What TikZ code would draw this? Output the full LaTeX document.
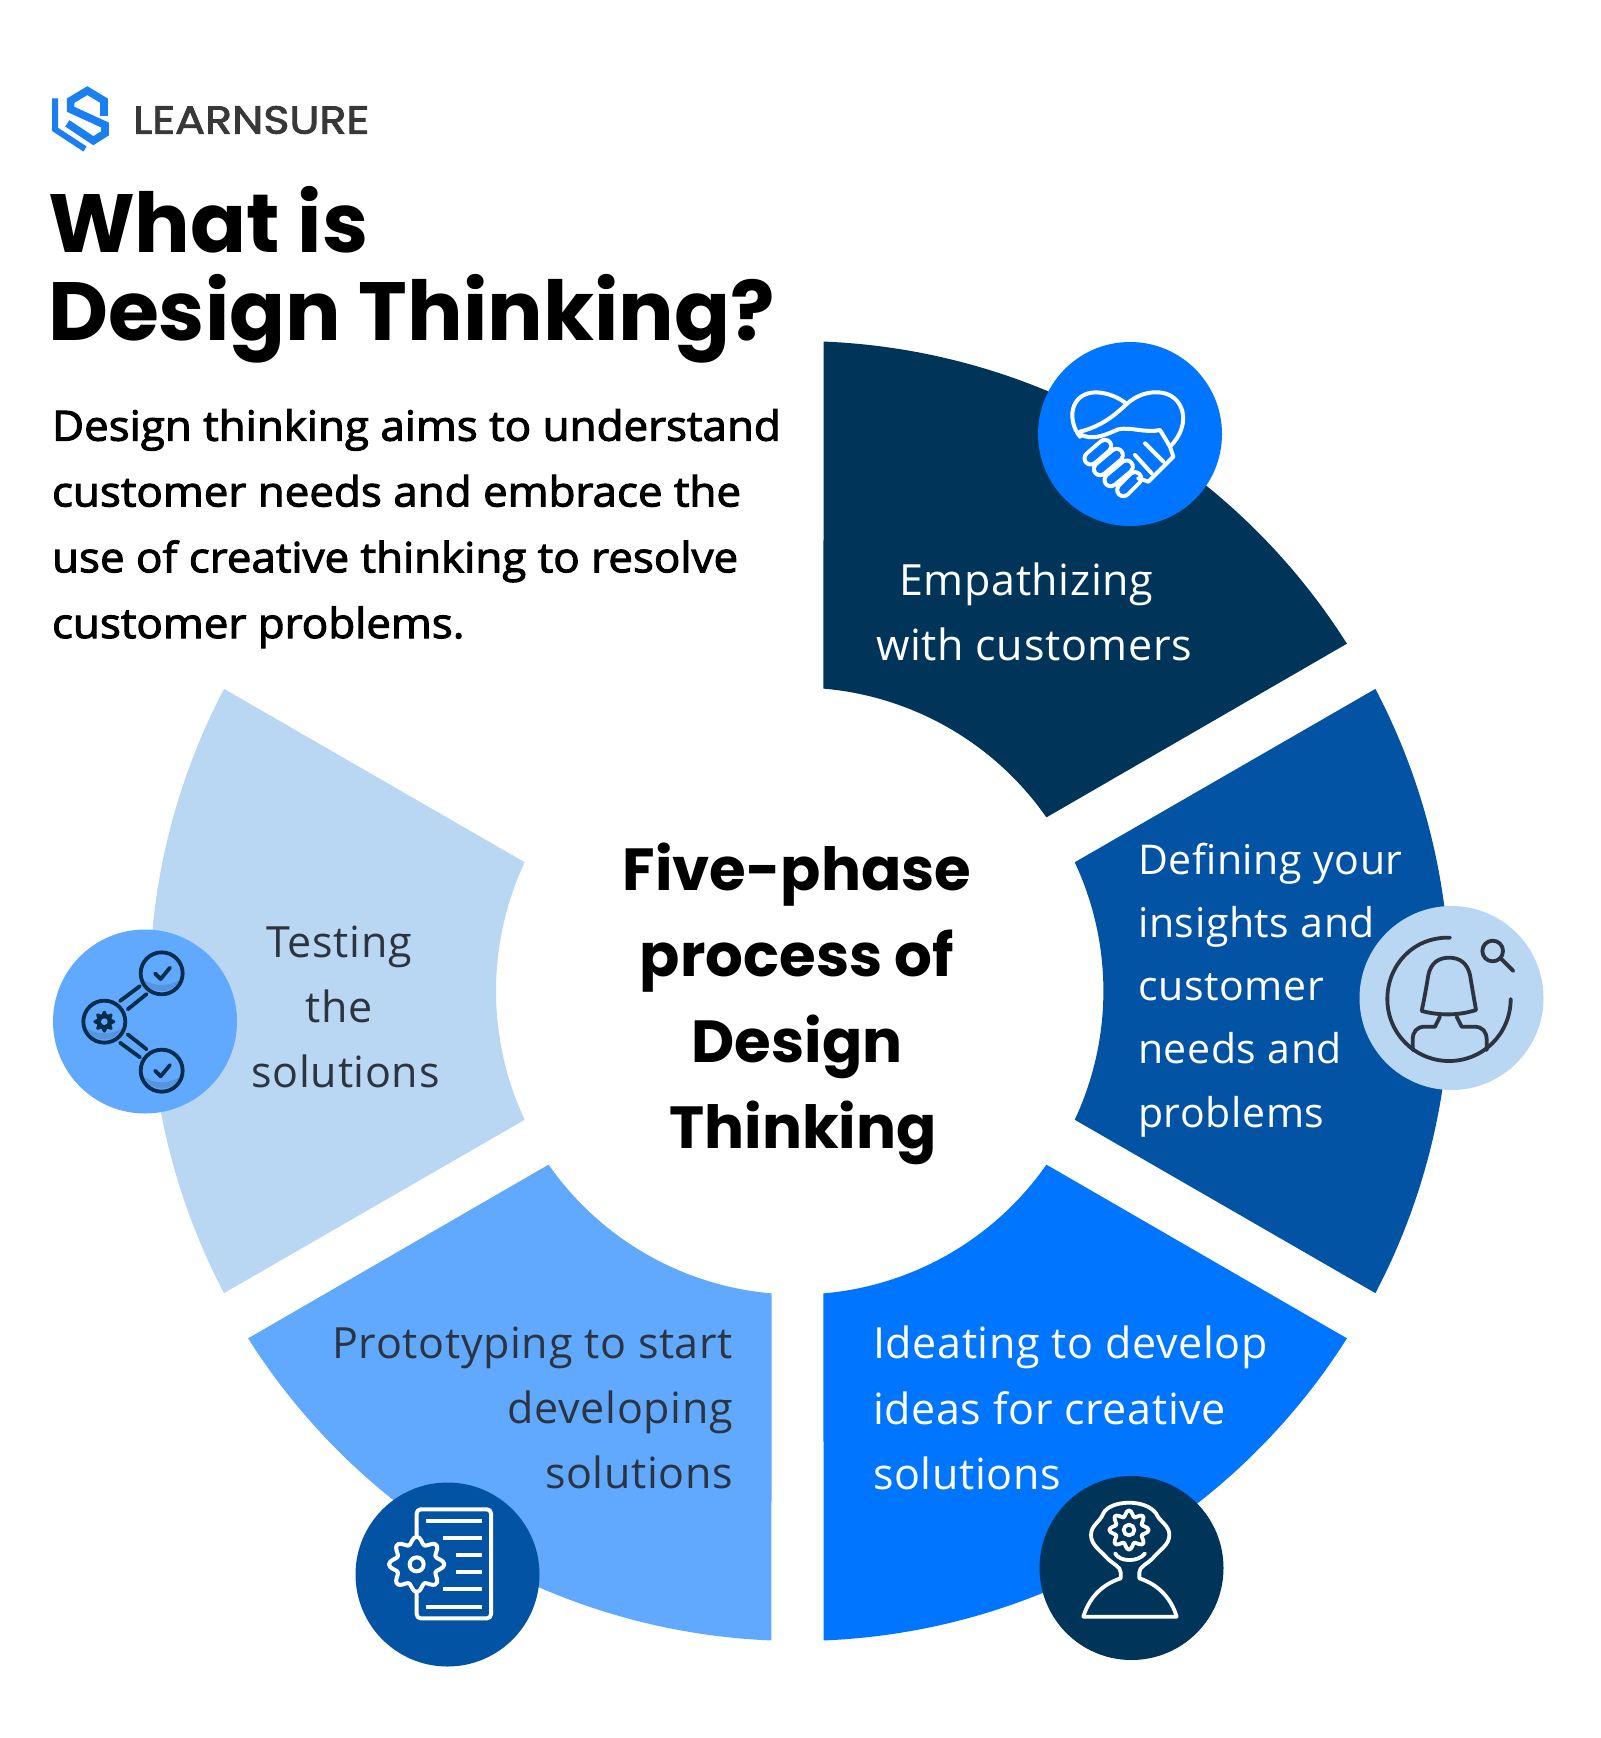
\documentclass[tikz,border=0pt]{standalone}
\usepackage{fontspec}
\setmainfont{Open Sans}
\newfontfamily\headfont{Poppins}
\newfontfamily\logofont[FakeBold=2.2, FakeStretch=1.14]{Poppins}
\newfontfamily\introfont[FakeBold=2.5, FakeStretch=1.056]{Open Sans}
\newfontfamily\phasefont[LetterSpace=1.5]{Open Sans}
\definecolor{navy}{HTML}{003559}
\definecolor{royal}{HTML}{0353A4}
\definecolor{bright}{HTML}{0075FF}
\definecolor{sky}{HTML}{61A9FF}
\definecolor{pale}{HTML}{B9D6F2}
\definecolor{ink}{HTML}{2B3440}
\definecolor{logoblue}{HTML}{1A7FF0}
\usepackage{tikz}

\begin{document}
\begin{tikzpicture}[x=0.5pt, y=-0.5pt,
  heading/.style={align=left, anchor=north west, font=\headfont\bfseries\fontsize{41.3}{44.3}\selectfont},
  intro/.style={align=left, anchor=north west, font=\introfont\fontsize{20.8}{32.9}\selectfont},
  centre/.style={align=center, font=\headfont\bfseries\fontsize{29.7}{42.9}\selectfont},
  phase/.style={font=\phasefont\fontsize{21.5}{32.7}\selectfont},
  narrow/.style={font=\phasefont\fontsize{20.5}{31.6}\selectfont},
  badge/.style={circle, minimum size=92pt, inner sep=0pt},
  crop/.style={x=0.16667pt, y=-0.16667pt, line join=round, line cap=round},
  finger/.style={double=bright, double distance=4.2pt, line width=2pt},
]
\useasboundingbox (0,0) rectangle (1600,1738);

% five sectors round the middle
\begin{scope}[shift={(797.5,991)}]
\fill[navy] (-87.7:650) arc[start angle=-87.7, end angle=-32.3, radius=650] -- (-34.9:303.5) arc[start angle=-34.9, end angle=-85.1, radius=303.5] -- cycle;
\fill[royal, xshift=1.2pt] (-27.7:650) arc[start angle=-27.7, end angle=27.7, radius=650] -- (25.1:303.5) arc[start angle=25.1, end angle=-25.1, radius=303.5] -- cycle;
\fill[bright] (32.3:650) arc[start angle=32.3, end angle=87.7, radius=650] -- (85.1:303.5) arc[start angle=85.1, end angle=34.9, radius=303.5] -- cycle;
\fill[sky] (92.3:650) arc[start angle=92.3, end angle=147.7, radius=650] -- (145.1:303.5) arc[start angle=145.1, end angle=94.9, radius=303.5] -- cycle;
\fill[pale, xshift=1pt] (152.3:650) arc[start angle=152.3, end angle=207.7, radius=650] -- (205.1:303.5) arc[start angle=205.1, end angle=154.9, radius=303.5] -- cycle;
\end{scope}

\node[badge, fill=bright] (empathize) at (1130,434) {};
\node[badge, fill=pale] (define) at (1451.5,998) {};
\node[badge, fill=navy] (ideate) at (1131.5,1568) {};
\node[badge, fill=royal] (prototype) at (447.5,1574.5) {};
\node[badge, fill=sky] (test) at (145,1021.5) {};

\node[heading] (title) at (41,179) {What is\\Design Thinking?};
\node[intro, text=black] (summary) at (45,402) {Design thinking aims to understand\\customer needs and embrace the\\use of creative thinking to resolve\\customer problems.};
\node[centre] (middle) at (797,1004) {Five-phase\\process of\\Design\\\kern6pt Thinking};
\node[phase, align=center, text=white] (empathizing) at (1034,612) {Empathizing\kern7.7pt\\with customers};
\node[narrow, align=left, anchor=west, text=white] (defining) at (1131,990) {Defining your\\insights and\\customer\\needs and\\problems};
\node[phase, align=left, anchor=west, text=white] (ideating) at (866,1408) {Ideating to develop\\ideas for creative\\solutions};
\node[phase, align=right, anchor=east, text=ink] (prototyping) at (740,1408) {Prototyping to start\\developing\\solutions};
\node[phase, align=center, text=ink] (testing) at (339,1007) {Testing\\the\\\kern6.6pt solutions};
\node[anchor=west, text={black!78}, font=\logofont\fontsize{19.5}{24}\selectfont] (brand) at (126,120) {LEARNSURE};

% logo
\begin{scope}[shift={(30,70)}, crop, logoblue, miter limit=4, line cap=butt, line join=miter]
\draw[line width=3.8pt] (222,138) -- (222,92) -- (172,62) -- (122,92) -- (122,118) -- (225,165) -- (225,190) -- (190,212) -- (112,160);
\draw[line width=3pt] (75,85) -- (75,178) -- (165,237);
\end{scope}

% handshake heart
\begin{scope}[shift={(1020,330)}, crop, white, line width=2pt]
\draw[finger] (345,445) -- (310,480);
\draw[finger] (320,410) -- (272,450);
\draw[finger] (290,375) -- (240,417);
\draw[finger] (255,348) -- (212,385);
\draw (180,320) .. controls (140,270) and (150,190) .. (225,187) .. controls (265,187) and (300,205) .. (320,222);
\draw (180,305) .. controls (240,290) and (280,260) .. (320,222) .. controls (350,195) and (385,185) .. (415,187) .. controls (490,190) and (520,280) .. (450,350);
\draw (175,310) .. controls (215,335) and (255,315) .. (295,298) .. controls (335,290) and (375,310) .. (420,300) -- (450,350) -- (460,380) -- (385,455) -- (355,445);
\draw (345,375) -- (395,430);
\draw (375,340) -- (430,395);
\end{scope}

% person with magnifier
\begin{scope}[shift={(1350,895)}, crop, ink, line width=1.9pt]
\draw (300,128) .. controls (190,125) and (112,210) .. (112,312) .. controls (112,415) and (195,498) .. (297,498) .. controls (400,498) and (482,415) .. (482,312);
\draw (215,348) .. controls (225,300) and (230,270) .. (235,240) .. controls (242,205) and (265,188) .. (297,188) .. controls (330,188) and (352,205) .. (360,240) .. controls (365,270) and (370,300) .. (378,345) .. controls (325,362) and (270,362) .. cycle;
\draw (270,365) -- (255,395) -- (225,395) .. controls (200,395) and (188,410) .. (188,435) -- (188,465);
\draw (320,365) -- (335,395) -- (372,395) .. controls (398,395) and (410,410) .. (410,435) -- (410,465);
\draw (428,168) circle[radius=31];
\draw (452,190) -- (490,228);
\end{scope}

% head with gear
\begin{scope}[shift={(1030,1465)}, crop, white, line width=1.9pt]
\draw (272,322) .. controls (272,305) and (250,298) .. (232,280) .. controls (210,255) and (183,240) .. (183,210) .. controls (183,180) and (210,172) .. (220,145) .. controls (240,105) and (345,100) .. (378,145) .. controls (388,170) and (418,180) .. (418,210) .. controls (418,240) and (388,255) .. (368,280) .. controls (350,298) and (328,305) .. (328,322) -- (328,340) .. controls (390,360) and (425,405) .. (440,455) -- (160,455) .. controls (175,405) and (210,360) .. (272,340) -- cycle;
\draw[shift={(297,195)}] plot[smooth cycle, domain=0:354, samples=60] (\x:{50+9*cos(8*\x)});
\draw (297,195) circle[radius=16];
\draw (255,265) .. controls (270,292) and (325,292) .. (345,265);
\end{scope}

% document with gear
\begin{scope}[shift={(345,1470)}, crop, white, line width=2pt]
\draw[rounded corners=2pt] (215,195) -- (215,118) -- (438,118) -- (438,445) -- (215,445) -- (215,370);
\draw[fill=royal, shift={(215,283)}] plot[smooth cycle, domain=0:354, samples=60] (\x:{72+11*cos(8*\x)});
\draw (215,283) circle[radius=21];
\draw[line cap=butt] (243,153) -- (412,153);
\draw[line cap=butt] (293,205) -- (412,205);
\draw[line cap=butt] (333,256) -- (412,256);
\draw[line cap=butt] (333,307) -- (412,307);
\draw[line cap=butt] (293,358) -- (412,358);
\draw[line cap=butt] (243,410) -- (412,410);
\end{scope}

% linked checks
\begin{scope}[shift={(45,920)}, crop, navy!85!black, line width=1.9pt]
\fill[sky!88!black] (297,180) .. controls (330,200) and (370,200) .. (403,180) .. controls (385,225) and (315,225) .. cycle;
\fill[sky!88!black] (125,325) .. controls (158,345) and (198,345) .. (231,325) .. controls (213,370) and (143,370) .. cycle;
\fill[sky!88!black] (297,472) .. controls (330,492) and (370,492) .. (403,472) .. controls (385,517) and (315,517) .. cycle;
\draw (350,160) circle[radius=63];
\draw (178,305) circle[radius=63];
\draw (350,452) circle[radius=63];
\draw (225,243) -- (285,198);
\draw (248,268) -- (305,222);
\draw (248,343) -- (305,388);
\draw (225,368) -- (285,412);
\draw (330,160) -- (347,177) -- (375,143);
\draw (330,452) -- (347,469) -- (375,435);
\fill[shift={(178,305)}] plot[smooth cycle, domain=0:354, samples=60] (\x:{28+5*cos(8*\x)});
\fill[sky] (178,305) circle[radius=10];
\end{scope}
\end{tikzpicture}
\end{document}
